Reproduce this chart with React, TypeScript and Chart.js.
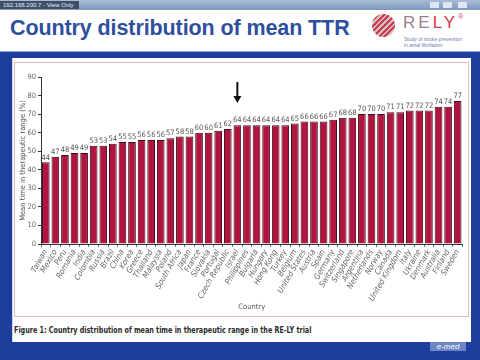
import React, { useEffect, useRef } from "react";
import { Chart, registerables } from "chart.js";

Chart.register(...registerables);

const countries = [
  "Taiwan", "Mexico", "Peru", "Romania", "India", "Colombia", "Russia", "Brazil",
  "China", "Korea", "Greece", "Thailand", "Malaysia", "Poland", "South Africa",
  "Japan", "France", "Slovakia", "Portugal", "Czech Republic", "Israel",
  "Philippines", "Bulgaria", "Hungary", "Hong Kong", "Turkey", "Belgium",
  "United States", "Austria", "Spain", "Germany", "Switzerland", "Singapore",
  "Argentina", "Netherlands", "Norway", "Canada", "United Kingdom", "Italy",
  "Ukraine", "Denmark", "Australia", "Finland", "Sweden",
];

const ttrValues = [
  44, 47, 48, 49, 49, 53, 53, 54, 55, 55, 56, 56, 56, 57, 58, 58, 60, 60, 61, 62,
  64, 64, 64, 64, 64, 64, 65, 66, 66, 66, 67, 68, 68, 70, 70, 70, 71, 71, 72, 72,
  72, 74, 74, 77,
];

const yMin = 0;
const yMax = 90;
const yStep = 10;
const highlightCountry = "Israel";

const NARROW = "'Liberation Sans Narrow', 'DejaVu Sans Condensed', 'Liberation Sans', sans-serif";

const valueLabelPlugin = {
  id: "valueLabels",
  afterDatasetsDraw(chart: any) {
    const ctx = chart.ctx;
    const meta = chart.getDatasetMeta(0);
    ctx.save();
    ctx.font = `7.5px ${NARROW}`;
    ctx.fillStyle = "#555";
    ctx.textAlign = "center";
    ctx.textBaseline = "bottom";
    meta.data.forEach((bar: any, i: number) => {
      ctx.fillText(String(chart.data.datasets[0].data[i]), bar.x, bar.y - 1);
    });
    ctx.restore();
  },
};

const arrowPlugin = {
  id: "arrowMark",
  afterDatasetsDraw(chart: any) {
    const idx = countries.indexOf(highlightCountry);
    if (idx < 0) return;
    const x = chart.scales.x.getPixelForValue(idx);
    const top = chart.chartArea.top + 5;
    const tip = chart.chartArea.top + 26;
    const ctx = chart.ctx;
    ctx.save();
    ctx.strokeStyle = "#111";
    ctx.fillStyle = "#111";
    ctx.lineWidth = 2;
    ctx.beginPath();
    ctx.moveTo(x, top);
    ctx.lineTo(x, tip - 5);
    ctx.stroke();
    ctx.beginPath();
    ctx.moveTo(x - 4, tip - 7);
    ctx.lineTo(x + 4, tip - 7);
    ctx.lineTo(x, tip);
    ctx.closePath();
    ctx.fill();
    ctx.restore();
  },
};

function TTRChart() {
  const ref = useRef<HTMLCanvasElement | null>(null);
  useEffect(() => {
    if (!ref.current) return;
    const chart = new Chart(ref.current, {
      type: "bar",
      data: {
        labels: countries,
        datasets: [
          {
            data: ttrValues,
            backgroundColor: "#b1143e",
            borderColor: "#3d0c16",
            borderWidth: 1,
            barPercentage: 0.8,
            categoryPercentage: 1,
          },
        ],
      },
      options: {
        animation: false,
        responsive: false,
        devicePixelRatio: 1,
        layout: { padding: { top: 14, right: 1, left: 0, bottom: 0 } },
        plugins: { legend: { display: false }, tooltip: { enabled: false } },
        scales: {
          x: {
            grid: { display: true, drawOnChartArea: false, drawTicks: true, tickLength: 3, color: "#4f7f78" },
            border: { color: "#333", width: 1 },
            ticks: {
              autoSkip: false,
              minRotation: 60,
              maxRotation: 60,
              padding: 1,
              color: "#666",
              font: { family: NARROW, size: 8, style: "italic" },
            },
            title: {
              display: true,
              text: "Country",
              color: "#555",
              font: { family: NARROW, size: 7.5 },
              padding: { top: 0, bottom: 3 },
            },
            afterFit: (s: any) => {
              s.height = 71;
            },
          },
          y: {
            min: yMin,
            max: yMax,
            ticks: { stepSize: yStep, padding: 2, color: "#666", font: { family: NARROW, size: 7.5 } },
            grid: { display: true, drawOnChartArea: false, tickLength: 3, color: "#333" },
            border: { color: "#333", width: 1 },
            title: {
              display: true,
              text: "Mean time in therapeutic range (%)",
              color: "#555",
              font: { family: NARROW, size: 7.5 },
              padding: { top: 4, bottom: 0 },
            },
            afterFit: (s: any) => {
              s.width = 26;
            },
          },
        },
      },
      plugins: [valueLabelPlugin, arrowPlugin],
    });
    return () => chart.destroy();
  }, []);
  return <canvas ref={ref} width={452} height={252} style={{ width: 452, height: 252, display: "block" }} />;
}

export default function App() {
  return (
    <div
      style={{
        position: "fixed",
        left: 0,
        top: 0,
        width: 480,
        height: 360,
        overflow: "hidden",
        background: "#1d3e9c",
        fontFamily: "'Liberation Sans', Arial, sans-serif",
      }}
    >
      {/* window title bar */}
      <div
        style={{
          position: "absolute",
          left: 0,
          top: 0,
          width: 480,
          height: 10,
          background: "linear-gradient(#a9bcd8, #7f98c0)",
        }}
      >
        <div
          style={{
            position: "absolute",
            left: 0,
            top: 1,
            width: 76,
            height: 8,
            background: "#3f4f68",
            color: "#e8ecf4",
            fontSize: 6,
            lineHeight: "8px",
            paddingLeft: 3,
            whiteSpace: "nowrap",
            overflow: "hidden",
          }}
        >
          192.168.200.7 - View Only
        </div>
        <div style={{ position: "absolute", left: 430, top: 2, width: 9, height: 6, background: "#dfe6f2" }} />
        <div style={{ position: "absolute", left: 443, top: 2, width: 9, height: 6, background: "#dfe6f2" }} />
        <div style={{ position: "absolute", left: 458, top: 2, width: 9, height: 6, background: "#dfe6f2" }} />
      </div>
      {/* slide header */}
      <div style={{ position: "absolute", left: 0, top: 10, width: 480, height: 41, background: "#ffffff" }}>
        <div
          style={{
            position: "absolute",
            left: 10,
            top: 6,
            fontSize: 21.5,
            fontWeight: "bold",
            color: "#2e4f9e",
            whiteSpace: "nowrap",
            letterSpacing: -0.1,
          }}
        >
          Country distribution of mean TTR
        </div>
        <div
          style={{
            position: "absolute",
            left: 372,
            top: 4,
            width: 23,
            height: 23,
            borderRadius: "50%",
            background:
              "repeating-linear-gradient(135deg, #d33a4c 0px, #d33a4c 2px, #c9c4c8 2px, #c9c4c8 4px)",
          }}
        />
        <div
          style={{
            position: "absolute",
            left: 403,
            top: 3,
            fontSize: 17,
            letterSpacing: 3,
            whiteSpace: "nowrap",
          }}
        >
          <span style={{ color: "#9a8090" }}>RE</span>
          <span style={{ color: "#d4364d" }}>LY</span>
          <span style={{ color: "#d4364d", fontSize: 7, verticalAlign: "top" }}>®</span>
        </div>
        <div
          style={{
            position: "absolute",
            left: 404,
            top: 26,
            fontSize: 5,
            lineHeight: "6px",
            color: "#6f80b0",
            whiteSpace: "nowrap",
          }}
        >
          Study of stroke prevention
          <br />
          in atrial fibrillation
        </div>
      </div>
      {/* blue band */}
      <div style={{ position: "absolute", left: 0, top: 51, width: 480, height: 1, background: "#8fa6d8" }} />
      {/* slide body panel */}
      <div
        style={{
          position: "absolute",
          left: 12,
          top: 58,
          width: 458,
          height: 284,
          background: "#ffffff",
          borderLeft: "1px solid #c8d8f0",
        }}
      />
      {/* chart box */}
      <div
        style={{
          position: "absolute",
          left: 14,
          top: 62,
          width: 453,
          height: 253,
          border: "1px solid #e9b9c2",
          background: "#ffffff",
        }}
      >
        <TTRChart />
      </div>
      {/* caption */}
      <div
        style={{
          position: "absolute",
          left: 14,
          top: 325,
          fontSize: 8.5,
          fontWeight: "bold",
          fontFamily: NARROW,
          color: "#2a2a2a",
          whiteSpace: "nowrap",
          transform: "scaleX(0.84)",
          transformOrigin: "left top",
        }}
      >
        Figure 1: Country distribution of mean time in therapeutic range in the RE-LY trial
      </div>
      {/* bottom bar details */}
      <div
        style={{
          position: "absolute",
          left: 430,
          top: 342,
          width: 36,
          height: 9,
          background: "#6d86c4",
          color: "#ffffff",
          fontSize: 8,
          fontStyle: "italic",
          lineHeight: "9px",
          textAlign: "center",
        }}
      >
        e-med
      </div>
    </div>
  );
}
